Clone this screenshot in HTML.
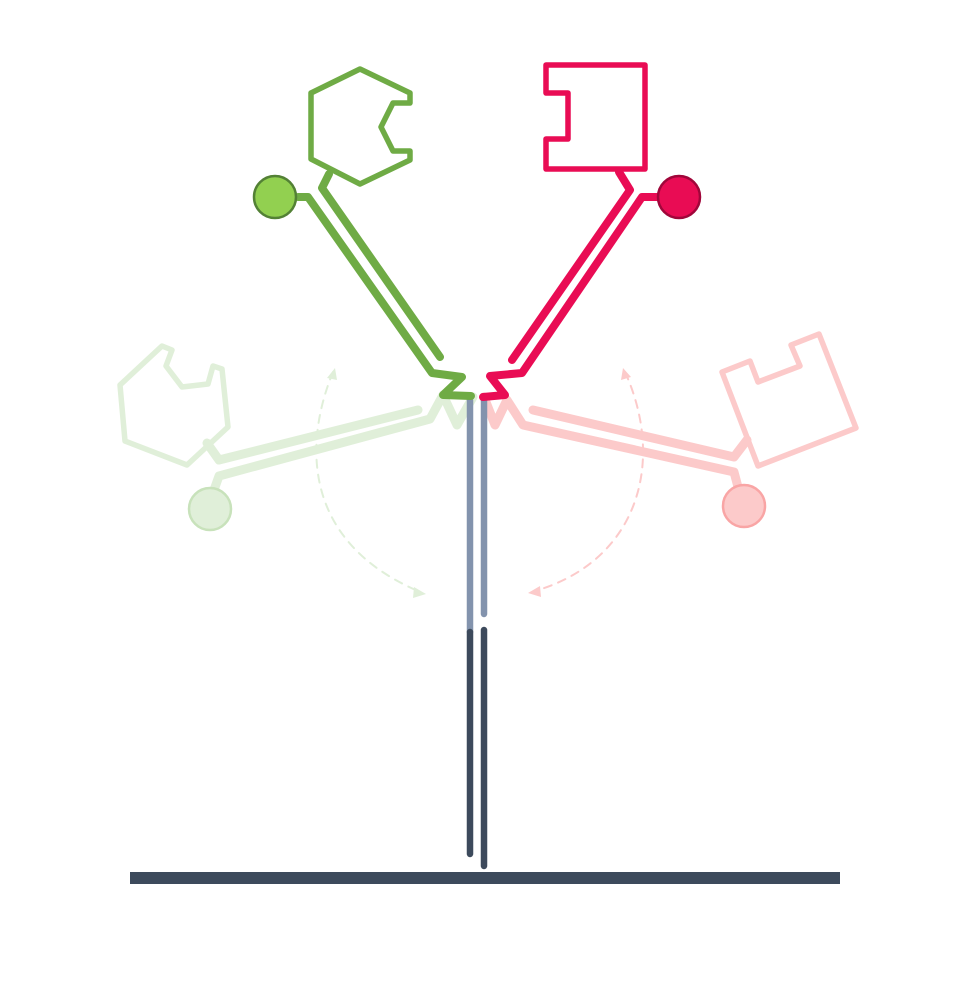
<!DOCTYPE html>
<html><head><meta charset="utf-8"><style>html,body{margin:0;padding:0;background:#fff}svg{display:block}</style></head>
<body>
<svg width="980" height="989" viewBox="0 0 980 989" xmlns="http://www.w3.org/2000/svg">
<g fill="none" stroke-linejoin="round" stroke-linecap="round">
<!-- faded green -->
<g stroke="#e0efd9">
<polygon stroke-width="5.5" points="162,346 172,350 166,366 182,387 208,384 213,366 222,369 228,427 187,465 125,441 120,385"/>
<polyline stroke-width="9" points="418,410 219,460 207,443"/>
<polyline stroke-width="9" points="473,397 457,425 443,395 430,419 219,476 214,490"/>
<circle cx="210" cy="509" r="21" fill="#e0efd9" stroke="#c8e2bb" stroke-width="2.5"/>
<path d="M333,372 C305,440 300,540 418,591" stroke-width="2" stroke-dasharray="8,7"/>
<polygon points="335,368 327,378 337,380" fill="#e0efd9" stroke="none"/>
<polygon points="426,594 414,587 413,598" fill="#e0efd9" stroke="none"/>
</g>
<!-- faded red -->
<g stroke="#fccaca">
<polygon stroke-width="5.5" points="791,345 819,334 856,428 758,466 722,372 750,361 758,382 800,366"/>
<polyline stroke-width="9" points="533,410 734,457 747,440"/>
<polyline stroke-width="9" points="484,397 495,425 507,400 523,425 734,472 738,487"/>
<circle cx="744" cy="506" r="21" fill="#fccaca" stroke="#f9a5a5" stroke-width="2.5"/>
<path d="M625,372 C665,460 640,560 535,591" stroke-width="2" stroke-dasharray="8,7"/>
<polygon points="623,368 621,380 631,377" fill="#fccaca" stroke="none"/>
<polygon points="528,593 540,586 541,597" fill="#fccaca" stroke="none"/>
</g>
<!-- stem -->
<line x1="470" y1="400" x2="470" y2="632" stroke="#8393ad" stroke-width="6.5"/>
<line x1="484" y1="400" x2="484" y2="614" stroke="#8393ad" stroke-width="6.5"/>
<line x1="470" y1="632" x2="470" y2="854" stroke="#3d4a5c" stroke-width="6.5"/>
<line x1="484" y1="630" x2="484" y2="866" stroke="#3d4a5c" stroke-width="6.5"/>
<line x1="130" y1="878" x2="840" y2="878" stroke="#3d4a5c" stroke-width="12" stroke-linecap="butt"/>
<!-- green -->
<g stroke="#6fab45">
<polygon stroke-width="5.5" points="360,69 410,93 410,103 393,103 381,127 393,151 410,151 410,160 360,184 311,159 311,93"/>
<polyline stroke-width="8" points="329,174 322,188 440,357"/>
<polyline stroke-width="8" points="298,197 308,197 432,373 462,377 443,395 471,396"/>
<circle cx="275" cy="197" r="21" fill="#92d050" stroke="#538135" stroke-width="2.5"/>
</g>
<!-- red -->
<g stroke="#e90c54">
<polygon stroke-width="5.5" points="546,65 645,65 645,169 546,169 546,139 568,139 568,93 546,93"/>
<polyline stroke-width="8" points="619,172 630,190 512,360"/>
<polyline stroke-width="8" points="660,197 642,197 522,373 490,376 505,395 483,397"/>
<circle cx="679" cy="197" r="21" fill="#e90c54" stroke="#a0063a" stroke-width="2.5"/>
</g>
</g>
</svg>
</body></html>
